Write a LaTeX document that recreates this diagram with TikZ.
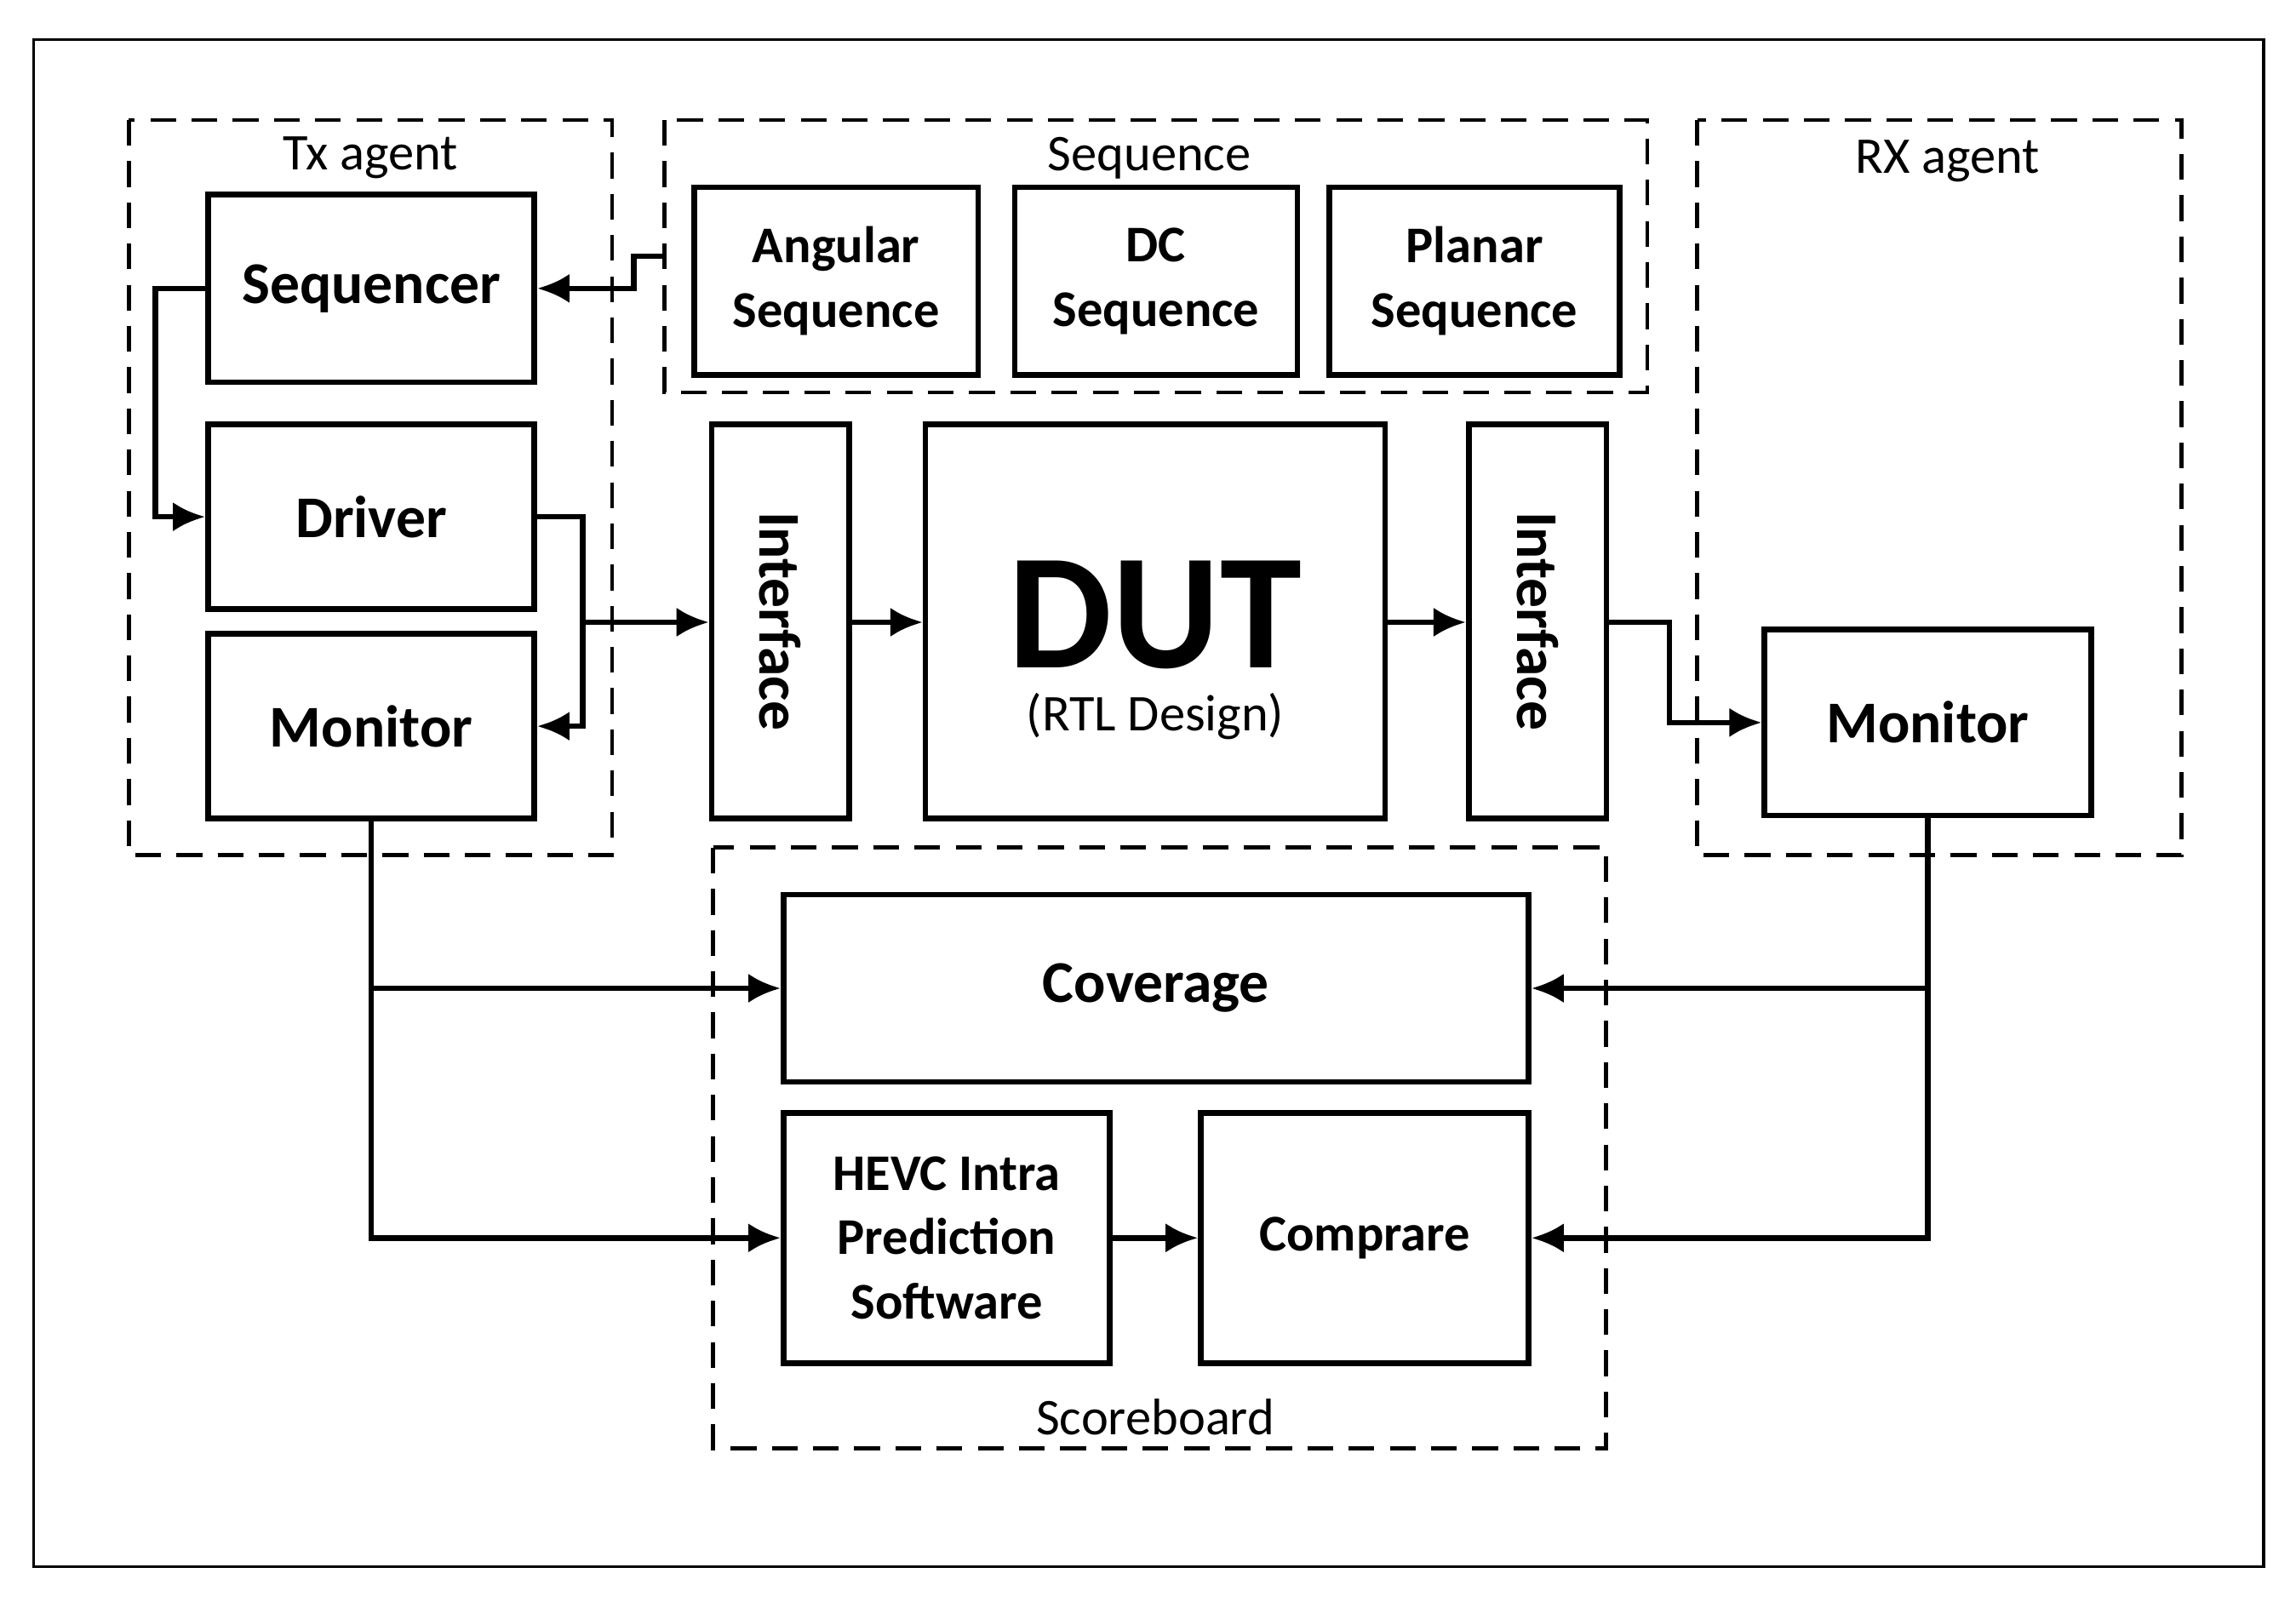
\documentclass[tikz,border=0pt]{standalone}
\usepackage{fontspec}
\setmainfont{Carlito}
\usetikzlibrary{arrows.meta, positioning}
\tikzset{>= {Latex[length = 2.2mm, width = 2mm]},
         block/.style = {draw, line width = 1.1pt, font = \bfseries\fontsize{11.5}{13}\selectfont,
                         align = center, inner sep = 0pt},
         seqblock/.style = {block, font = \bfseries\fontsize{10}{12.5}\selectfont},
         group/.style = {draw, dashed, line width = 0.8pt, dash pattern = on 5pt off 3pt},
         grouplabel/.style = {font = \fontsize{10}{12}\selectfont},
         wire/.style = {line width = 1.1pt}}

\newcommand{\blk}[6]{% name, style, x1, y1, x2, y2
  \node[#2, minimum width = {(#5-#3)*0.01cm}, minimum height = {(#6-#4)*0.01cm}]
    (#1) at ({(#3+#5)/2}, {(#4+#6)/2})}

\begin{document}
\begin{tikzpicture}[x = 0.01cm, y = -0.01cm]
        \useasboundingbox (0,0) rectangle (1568,1094);
        \draw[line width = 0.6pt] (23,27) rectangle (1546,1070);

        % agents and groups
        \draw[group] (88,82)    rectangle (418,584);
        \draw[group] (454,82)   rectangle (1125,268);
        \draw[group] (1159,82)  rectangle (1490,584);
        \draw[group] (487,579)  rectangle (1097,989);
        \node[grouplabel] (txlbl)  at (253,108)  {Tx agent};
        \node[grouplabel] (seqlbl) at (785,108)  {Sequence};
        \node[grouplabel] (rxlbl)  at (1330,110) {RX agent};
        \node[grouplabel] (sblbl)  at (789,968)  {Scoreboard};

        % blocks
        \blk{sqr}{block}{142}{133}{365}{261} {Sequencer};
        \blk{drv}{block}{142}{290}{365}{416} {Driver};
        \blk{txmon}{block}{142}{433}{365}{559} {Monitor};
        \blk{ang}{seqblock}{474}{128}{668}{256} {Angular\\Sequence};
        \blk{dc}{seqblock}{693}{128}{886}{256} {DC\\Sequence};
        \blk{pln}{seqblock}{908}{128}{1106}{256} {Planar\\Sequence};
        \blk{ifa}{block}{486}{290}{580}{559} {};
        \blk{dut}{block}{632}{290}{946}{559} {};
        \blk{ifb}{block}{1003}{290}{1097}{559} {};
        \blk{rxmon}{block}{1205}{430}{1428}{557} {Monitor};
        \blk{cov}{block}{535}{611}{1044}{739} {Coverage};
        \blk{hevc}{seqblock}{535}{760}{758}{931} {HEVC Intra\\Prediction\\Software};
        \blk{cmp}{seqblock}{820}{760}{1044}{931} {Comprare};

        \node[rotate = -90, font = \bfseries\fontsize{11.5}{13}\selectfont] (ifatxt) at (ifa) {Interface};
        \node[rotate = -90, font = \bfseries\fontsize{11.5}{13}\selectfont] (ifbtxt) at (ifb) {Interface};
        \node[inner sep = 0pt, font = \bfseries\fontsize{32}{34}\selectfont] (duttxt) at (789,420) {DUT};
        \node[inner sep = 0pt, font = \fontsize{10}{12}\selectfont] (rtltxt) at (789,489) {(RTL Design)};

        % connections
        \coordinate (seqin) at (454,175);
        \coordinate (drvout) at (398,425);
        \draw[wire, ->] (seqin) -- (433,175) |- (sqr.east);
        \draw[wire, ->] (sqr.west) -- (106,197) |- (drv.west);
        \draw[wire, ->] (drv.east) -- (398,353) |- (txmon.east);
        \draw[wire, ->] (drvout) -- (ifa.west |- drvout);
        \draw[wire, ->] (ifa.east |- drvout) -- (dut.west |- drvout);
        \draw[wire, ->] (dut.east |- drvout) -- (ifb.west |- drvout);
        \draw[wire, ->] (ifb.east |- drvout) -- (1140,425) |- (rxmon.west);
        \draw[wire, ->] (txmon.south) |- (hevc.west);
        \draw[wire, ->] (txmon.south |- cov.west) -- (cov.west);
        \draw[wire, ->] (rxmon.south) |- (cmp.east);
        \draw[wire, ->] (rxmon.south |- cov.east) -- (cov.east);
        \draw[wire, ->] (hevc) -- (cmp);
\end{tikzpicture}
\end{document}
